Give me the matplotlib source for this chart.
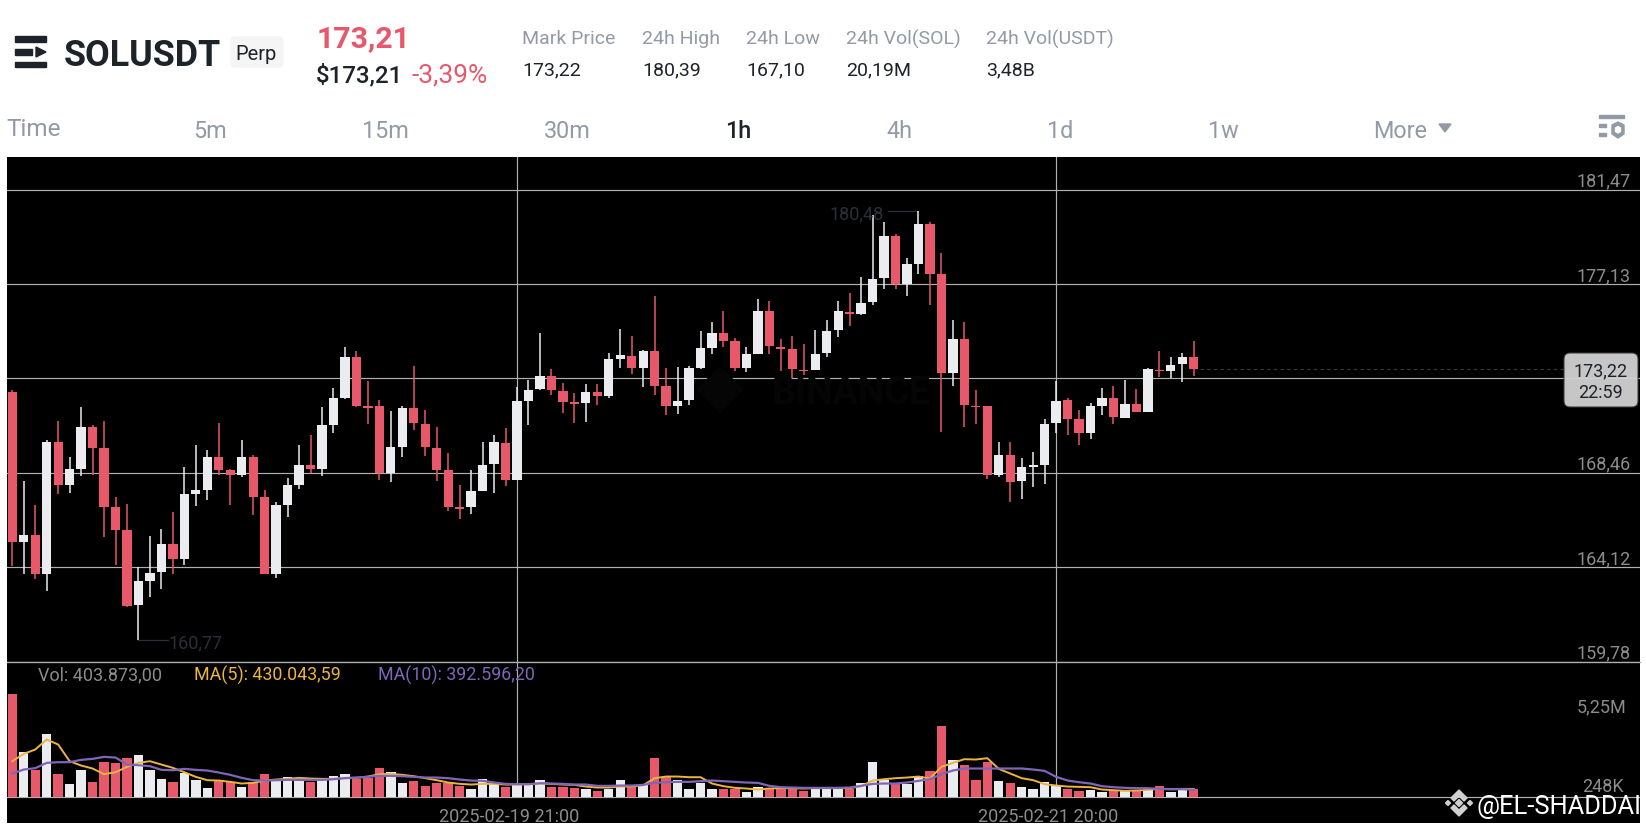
import matplotlib
matplotlib.use("Agg")
import matplotlib.pyplot as plt
from matplotlib.patches import FancyBboxPatch, Polygon, Rectangle
from matplotlib.transforms import ScaledTranslation

plt.rcParams['font.family'] = ['Roboto', 'DejaVu Sans']

# 1h candles
opens = [172.16, 165.26, 165.60, 163.82, 169.89, 167.90, 168.63, 170.55, 169.60, 166.87,
         165.84, 162.37, 163.46, 163.88, 165.17, 164.50, 167.50, 167.67, 169.20, 168.60,
         168.37, 169.20, 167.36, 163.82, 166.99, 167.88, 168.80, 168.63, 170.67, 171.90,
         173.78, 171.50, 171.50, 168.45, 169.63, 171.41, 170.70, 169.58, 168.59, 166.86,
         166.87, 167.61, 168.86, 169.84, 168.14, 171.77, 172.31, 172.91, 172.22, 171.70,
         171.64, 172.17, 171.97, 173.70, 173.84, 173.29, 174.03, 172.42, 171.51, 171.80,
         173.29, 174.21, 174.87, 174.52, 173.28, 173.93, 175.88, 174.24, 174.12, 173.20,
         173.20, 173.96, 175.01, 175.85, 175.74, 176.29, 177.41, 179.34, 177.12, 178.07,
         179.89, 177.58, 173.05, 174.61, 171.53, 171.51, 168.36, 169.28, 168.07, 168.74,
         168.83, 170.72, 171.79, 170.92, 170.27, 171.53, 171.91, 170.99, 171.62, 171.27,
         173.20, 173.12, 173.46, 173.78]
closes = [165.26, 165.60, 163.82, 169.89, 167.90, 168.63, 170.56, 169.60, 166.89, 165.84,
          162.35, 163.46, 163.87, 165.17, 164.50, 167.48, 167.67, 169.20, 168.60, 168.37,
          169.20, 167.36, 163.82, 166.99, 167.88, 168.82, 168.63, 170.67, 171.90, 173.78,
          171.51, 171.44, 168.45, 169.63, 171.41, 170.72, 169.63, 168.60, 166.89, 166.80,
          167.61, 168.83, 169.86, 168.14, 171.76, 172.28, 172.89, 172.25, 171.70, 171.62,
          172.16, 172.00, 173.67, 173.86, 173.29, 174.03, 172.43, 171.50, 171.76, 173.29,
          174.18, 174.88, 174.52, 173.26, 173.93, 175.88, 174.26, 174.16, 173.24, 173.14,
          173.93, 174.99, 175.88, 175.77, 176.26, 177.38, 179.34, 177.11, 178.06, 179.89,
          177.59, 173.05, 174.61, 171.56, 171.47, 168.37, 169.28, 168.05, 168.70, 168.82,
          170.70, 171.77, 170.93, 170.29, 171.50, 171.91, 171.01, 171.62, 171.27, 173.21,
          173.14, 173.43, 173.78, 173.21]
highs = [172.28, 168.07, 166.98, 169.98, 170.82, 169.17, 171.47, 170.67, 170.82, 167.35,
         167.03, 164.11, 165.57, 165.89, 166.66, 168.74, 169.71, 169.52, 170.75, 168.65,
         169.94, 169.26, 167.65, 167.10, 168.22, 169.72, 170.21, 171.48, 172.37, 174.22,
         174.04, 172.66, 171.82, 171.28, 171.54, 173.35, 171.36, 170.56, 169.37, 167.91,
         168.56, 169.86, 170.21, 170.49, 172.39, 172.74, 174.88, 173.23, 172.59, 172.10,
         172.54, 172.54, 173.97, 175.07, 174.76, 174.10, 176.57, 173.26, 173.32, 173.35,
         174.98, 175.39, 175.90, 174.65, 174.22, 176.45, 176.34, 174.61, 174.73, 174.39,
         175.02, 175.47, 176.35, 176.72, 177.47, 180.29, 179.99, 179.42, 178.32, 180.48,
         179.96, 178.55, 175.47, 175.39, 172.28, 171.51, 169.86, 169.89, 169.11, 169.40,
         170.93, 172.68, 171.87, 171.35, 171.67, 172.33, 172.46, 172.74, 172.31, 173.27,
         174.07, 173.78, 173.96, 174.53]
lows = [164.19, 163.81, 163.59, 163.04, 167.50, 167.53, 168.30, 168.34, 165.49, 164.21,
        162.29, 160.77, 162.75, 163.09, 163.82, 164.21, 166.92, 167.19, 168.33, 166.95,
        168.25, 166.50, 163.78, 163.62, 166.41, 167.71, 168.45, 168.30, 170.30, 171.85,
        171.48, 170.69, 168.14, 168.02, 169.17, 170.41, 169.22, 168.07, 166.69, 166.31,
        166.57, 167.61, 167.53, 167.84, 168.14, 170.66, 172.25, 172.03, 171.18, 170.72,
        170.79, 171.56, 171.91, 173.28, 172.98, 172.39, 172.05, 171.10, 171.15, 171.56,
        173.23, 173.89, 174.22, 173.12, 173.08, 173.93, 173.93, 173.12, 172.79, 172.97,
        173.20, 173.77, 174.70, 175.22, 175.71, 176.17, 176.91, 176.91, 176.57, 177.58,
        176.16, 170.33, 172.43, 170.56, 170.70, 168.16, 168.27, 167.10, 167.26, 167.81,
        167.96, 170.26, 170.18, 169.72, 170.00, 171.09, 170.70, 170.96, 171.24, 171.27,
        172.86, 172.80, 172.62, 172.92]

# volume in thousands
volumes = [5420, 2395, 1416, 3322, 1241, 682, 1416, 804, 1836, 1801,
           2063, 2220, 1434, 979, 787, 1259, 892, 507, 874, 804,
           524, 787, 1206, 927, 1066, 839, 787, 892, 1136, 1241,
           962, 997, 1521, 1346, 752, 874, 612, 769, 752, 612,
           455, 962, 717, 542, 664, 717, 927, 559, 542, 507,
           455, 332, 455, 927, 559, 629, 2080, 1049, 909, 420,
           734, 437, 420, 455, 262, 542, 437, 437, 437, 332,
           420, 420, 420, 455, 734, 1853, 892, 682, 717, 1101,
           1381, 3724, 1958, 1713, 909, 1836, 857, 752, 524, 437,
           804, 629, 437, 332, 385, 280, 367, 367, 332, 402,
           594, 262, 367, 404]
ma5 = [1888, 2273, 2500, 3025, 2762, 1888, 1661, 1504, 1206, 1311,
       1591, 1801, 1888, 1713, 1539, 1311, 1066, 892, 874, 804,
       717, 752, 874, 927, 962, 1014, 979, 962, 962, 1014,
       1014, 1084, 1206, 1224, 1171, 1101, 997, 892, 769, 699,
       664, 699, 699, 664, 664, 682, 717, 699, 664, 647,
       559, 507, 507, 559, 559, 629, 997, 1084, 1084, 1049,
       1049, 717, 577, 490, 455, 402, 455, 472, 472, 455,
       472, 472, 472, 472, 577, 874, 944, 997, 1031, 1084,
       979, 1591, 1801, 1993, 1976, 2046, 1486, 1241, 997, 892,
       682, 612, 559, 542, 524, 402, 367, 332, 350, 385,
       437, 420, 437, 430]
ma10 = [1241, 1451, 1521, 1801, 1836, 1836, 1958, 2011, 2115, 2080,
        1713, 1678, 1626, 1434, 1416, 1486, 1434, 1399, 1294, 1171,
        1014, 892, 874, 892, 909, 909, 909, 909, 944, 997,
        1031, 1066, 1119, 1119, 1101, 1066, 1031, 1031, 997, 927,
        874, 857, 769, 699, 682, 682, 734, 717, 699, 664,
        664, 594, 594, 612, 612, 647, 752, 787, 804, 804,
        839, 874, 839, 804, 769, 752, 594, 524, 507, 490,
        490, 490, 490, 507, 594, 699, 717, 717, 769, 857,
        944, 1206, 1399, 1504, 1504, 1504, 1504, 1504, 1504, 1451,
        1381, 1066, 874, 787, 717, 577, 524, 490, 472, 472,
        437, 420, 420, 393]

price_ticks = [181.47, 177.13, 172.79, 168.46, 164.12, 159.78]
price_labels = ['181,47', '177,13', '', '168,46', '164,12', '159,78']
time_ticks = [44, 91]
time_labels = ['2025-02-19 21:00', '2025-02-21 20:00']
last_price = 173.22

RED = '#e6586a'
WHITE = '#eaecef'
GRID = '#b0b0b0'
GREY = '#8c8c8c'
DARK = '#1e2329'
SOFT = '#929aa5'
MUTED = '#2b2f36'
FAINT = '#050505'

W, H = 1646, 828
fig = plt.figure(figsize=(W / 100, H / 100), dpi=100, facecolor='white')


def box(left, top, right, bottom):
    return [left / W, 1 - bottom / H, (right - left) / W, (bottom - top) / H]


ax = fig.add_axes(box(7.3, 157.5, 1640, 662.5), facecolor='black')
vol = fig.add_axes(box(7.3, 662.5, 1640, 823.5), facecolor='black')

x = list(range(len(opens)))
colors = [WHITE if c > o else RED for o, c in zip(opens, closes)]
x_range = (-0.436, 141.9)

# price pane
ax.set_xlim(*x_range)
ax.set_ylim(159.78, 182.99)
ax.set_xticks(time_ticks)
ax.set_yticks(price_ticks)
ax.set_yticklabels(price_labels, ha='right', va='bottom')
ax.yaxis.tick_right()
ax.grid(True, color=GRID, lw=0.85, zorder=1)
ax.set_axisbelow(True)
ax.tick_params(axis='x', length=0, labelbottom=False)
ax.tick_params(axis='y', length=0, pad=-7, labelsize=13, labelcolor=GREY)
for spine in ax.spines.values():
    spine.set_visible(False)

# faint exchange mark behind the candles
ax.text(0.517, 0.533, 'BINANCE', transform=ax.transAxes, color=FAINT, fontsize=27,
        fontweight='bold', ha='center', va='center', zorder=1.5)
ax.add_patch(Polygon([(0.4365, 0.584), (0.4506, 0.5386), (0.4365, 0.493), (0.4224, 0.5386)],
                     transform=ax.transAxes, color=FAINT, zorder=1.5))

ax.vlines(x, lows, highs, colors=colors, lw=1.1, zorder=3)
ax.bar(x, [max(abs(c - o), 0.06) for o, c in zip(opens, closes)],
       bottom=[min(o, c) for o, c in zip(opens, closes)], width=0.81, color=colors, zorder=4)

# last price guide and the high / low notes
ax.plot([x[-1] + 0.5, x_range[1]], [last_price, last_price], color='#3a3a3a', lw=0.8,
        ls=(0, (3, 3)), zorder=2)
low_i = lows.index(min(lows))
high_i = highs.index(max(highs))
ax.plot([low_i, low_i + 2.6], [lows[low_i], lows[low_i]], color=MUTED, lw=0.9, zorder=2)
ax.text(low_i + 2.65, lows[low_i] - 0.1, '160,77', color=MUTED, fontsize=13, va='center', zorder=5)
ax.plot([high_i - 2.7, high_i], [highs[high_i], highs[high_i]], color=MUTED, lw=0.9, zorder=2)
ax.text(high_i - 3.0, highs[high_i] - 0.1, '180,48', color=MUTED, fontsize=13, va='center', ha='right', zorder=5)

# volume pane
vol.set_xlim(*x_range)
vol.set_ylim(-1327, 7117)
vol.vlines(time_ticks, 0, 7117, colors=GRID, lw=0.85, zorder=1)
vol.axhline(0, color=GRID, lw=0.85, zorder=1)
vol.bar(x, volumes, width=0.82, color=colors, zorder=2)
vol.plot(x, ma5, color='#ecb440', lw=1.4, zorder=3)
vol.plot(x, ma10, color='#7e66b8', lw=1.6, zorder=3)
vol.set_xticks(time_ticks)
vol.set_xticklabels(time_labels)
vol.tick_params(axis='x', length=0, pad=-11, labelsize=13, labelcolor=GREY)
vol.set_yticks([])
for name, spine in vol.spines.items():
    spine.set_visible(name == 'top')
    spine.set_color(GRID)
    spine.set_linewidth(0.95)
# the date labels sit a little left of their lines
for label in vol.get_xticklabels():
    label.set_transform(label.get_transform() + ScaledTranslation(-7.6 / 100, 0, fig.dpi_scale_trans))

# page furniture, in pixel coordinates
page = fig.add_axes([0, 0, 1, 1], facecolor='none', zorder=10)
page.set_xlim(0, W)
page.set_ylim(H, 0)
page.axis('off')

# menu icon
for y0 in (37, 62.5):
    page.add_patch(Rectangle((15, y0), 31, 5.5, color=DARK))
page.add_patch(Rectangle((15, 50), 17, 6, color=DARK))
page.add_patch(Polygon([(36, 48), (46, 53), (36, 58)], color=DARK))

page.text(64, 56, 'SOLUSDT', color=DARK, fontsize=25.8, fontweight='bold', va='center')
page.add_patch(FancyBboxPatch((231, 38), 52, 30, boxstyle='round,pad=0,rounding_size=3', fc='#f5f5f5', ec='#f5f5f5', lw=1))
page.text(256, 55, 'Perp', color=DARK, fontsize=14.5, ha='center', va='center')
page.text(317, 39, '173,21', color=RED, fontsize=21.8, fontweight='bold', va='center')
page.text(316, 76, '$173,21', color=DARK, fontsize=17.3, fontweight='medium', va='center')
page.text(412, 76, '-3,39%', color=RED, fontsize=19, va='center')

stat_x = [522, 642, 746, 846, 986]
stat_names = ['Mark Price', '24h High', '24h Low', '24h Vol(SOL)', '24h Vol(USDT)']
stat_values = ['173,22', '180,39', '167,10', '20,19M', '3,48B']
for sx, name, value in zip(stat_x, stat_names, stat_values):
    page.text(sx, 39.5, name, color=SOFT, fontsize=14, va='center')
    page.text(sx, 70.5, value, color=DARK, fontsize=14, va='center')

page.text(6, 130, 'Time', color=SOFT, fontsize=17.5, va='center')
tab_x = [210, 385, 567, 738, 899, 1060, 1223, 1400]
tab_names = ['5m', '15m', '30m', '1h', '4h', '1d', '1w', 'More']
for tx, name in zip(tab_x, tab_names):
    active = name == '1h'
    page.text(tx, 132, name, color=DARK if active else SOFT, fontsize=16.8,
              fontweight='medium' if active else 'normal', ha='center', va='center')
page.add_patch(Polygon([(1439, 125), (1451, 125), (1445, 133)], color=SOFT))

# chart settings icon
page.add_patch(Rectangle((1599, 116), 25, 3, color=SOFT))
page.add_patch(Rectangle((1599, 125), 7, 3, color=SOFT))
page.add_patch(Rectangle((1599, 134), 7, 3, color=SOFT))
page.add_patch(Polygon([(1612, 126), (1618, 123), (1624, 126), (1624, 135), (1618, 139), (1612, 135)], color=SOFT))
page.add_patch(Polygon([(1615.5, 129), (1618, 127.5), (1620.5, 129), (1620.5, 132.5), (1618, 134), (1615.5, 132.5)], color='white'))

# last price tag
page.add_patch(FancyBboxPatch((1564, 354), 74, 54, boxstyle='round,pad=0,rounding_size=6', fc='#d2d2d2', ec='#3a3a3a', lw=0.8, alpha=0.95))
page.text(1601, 371, '173,22', color=DARK, fontsize=13, ha='center', va='center')
page.text(1601, 393, '22:59', color=DARK, fontsize=13, ha='center', va='center')

# volume legend and scale
page.text(38, 675, 'Vol: 403.873,00', color=GREY, fontsize=13, va='center')
page.text(194, 675, 'MA(5): 430.043,59', color='#ecb440', fontsize=12.85, va='center')
page.text(378, 675, 'MA(10): 392.596,20', color='#7e66b8', fontsize=12.85, va='center')
page.text(1626, 707, '5,25M', color=GREY, fontsize=13, ha='right', va='center')
page.text(1624, 787, '248K', color=GREY, fontsize=13, ha='right', va='center')

# square watermark
cx, cy = 1459, 804
page.add_patch(Polygon([(cx, cy - 13), (cx + 8, cy - 5), (cx + 5, cy - 2), (cx, cy - 7), (cx - 5, cy - 2), (cx - 8, cy - 5)], color='#d0d0d0'))
page.add_patch(Polygon([(cx, cy + 13), (cx + 8, cy + 5), (cx + 5, cy + 2), (cx, cy + 7), (cx - 5, cy + 2), (cx - 8, cy + 5)], color='#d0d0d0'))
for mx, r in [(cx, 3.5), (cx - 11, 2.5), (cx + 11, 2.5)]:
    page.add_patch(Polygon([(mx, cy - r), (mx + r, cy), (mx, cy + r), (mx - r, cy)], color='#d0d0d0'))
page.text(1477, 807, '@EL-SHADDAI', color='white', fontsize=18.4, va='center')

fig.savefig('out.png', dpi=100, facecolor='white')
